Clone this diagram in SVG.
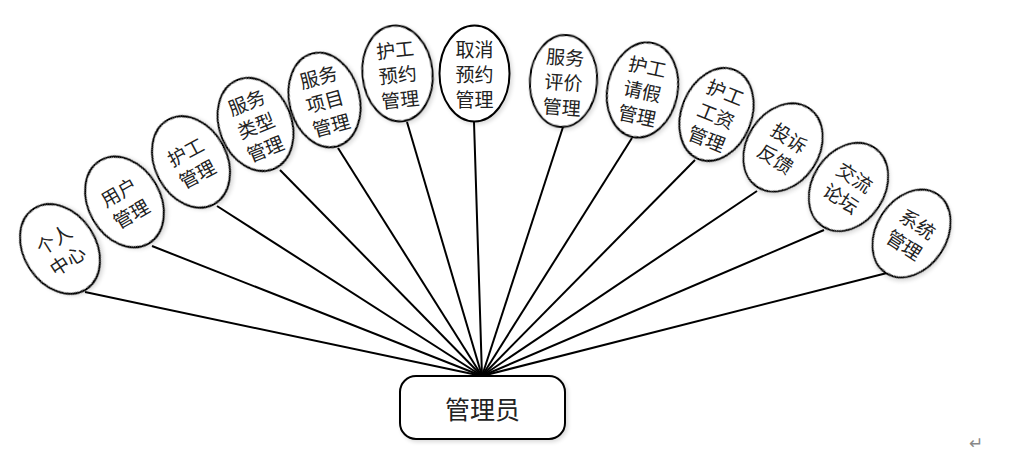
<svg xmlns="http://www.w3.org/2000/svg" width="1019" height="459" viewBox="0 0 1019 459">
<style>
.c{stroke:#000;stroke-width:2;fill:none}
.e{fill:#fff;stroke:#000;stroke-width:2;filter:url(#sh)}
.t{font-family:"Noto Sans CJK SC","Noto Sans",sans-serif;font-size:19px;fill:#222;text-anchor:middle;dominant-baseline:central}
</style>
<defs>
<filter id="sh" x="-20%" y="-20%" width="140%" height="140%">
<feGaussianBlur in="SourceAlpha" stdDeviation="2"/>
<feOffset dx="2" dy="2"/>
<feComponentTransfer><feFuncA type="linear" slope="0.15"/></feComponentTransfer>
<feMerge><feMergeNode/><feMergeNode in="SourceGraphic"/></feMerge>
</filter>
</defs>
<rect width="1019" height="459" fill="#fff"/>
<g id="connectors">
<line class="c" x1="482" y1="376" x2="85" y2="292"/>
<line class="c" x1="482" y1="376" x2="152" y2="246"/>
<line class="c" x1="482" y1="376" x2="217" y2="206"/>
<line class="c" x1="482" y1="376" x2="280" y2="170"/>
<line class="c" x1="482" y1="376" x2="338" y2="148"/>
<line class="c" x1="482" y1="376" x2="407" y2="122"/>
<line class="c" x1="482" y1="376" x2="474" y2="122"/>
<line class="c" x1="482" y1="376" x2="563" y2="127"/>
<line class="c" x1="482" y1="376" x2="632" y2="138"/>
<line class="c" x1="482" y1="376" x2="695" y2="160"/>
<line class="c" x1="482" y1="376" x2="757" y2="191"/>
<line class="c" x1="482" y1="376" x2="824" y2="230"/>
<line class="c" x1="482" y1="376" x2="887" y2="273"/>
</g>
<g id="n1" transform="translate(60,249) rotate(-33)">
<ellipse class="e" rx="36" ry="48"/>
<text class="t" y="-12.5">个人</text><text class="t" y="12.5">中心</text>
</g>
<g id="n2" transform="translate(124.5,202) rotate(-30)">
<ellipse class="e" rx="36" ry="48"/>
<text class="t" y="-12.5">用户</text><text class="t" y="12.5">管理</text>
</g>
<g id="n3" transform="translate(191,162) rotate(-28)">
<ellipse class="e" rx="36" ry="48"/>
<text class="t" y="-12.5">护工</text><text class="t" y="12.5">管理</text>
</g>
<g id="n4" transform="translate(255.5,124.5) rotate(-22)">
<ellipse class="e" rx="36" ry="48"/>
<text class="t" y="-25">服务</text><text class="t" y="0">类型</text><text class="t" y="25">管理</text>
</g>
<g id="n5" transform="translate(324.5,100) rotate(-15)">
<ellipse class="e" rx="35" ry="48"/>
<text class="t" y="-25">服务</text><text class="t" y="0">项目</text><text class="t" y="25">管理</text>
</g>
<g id="n6" transform="translate(397.5,73.5) rotate(-6)">
<ellipse class="e" rx="35" ry="48"/>
<text class="t" y="-25">护工</text><text class="t" y="0">预约</text><text class="t" y="25">管理</text>
</g>
<g id="n7" transform="translate(474.5,73.5)">
<ellipse class="e" rx="35" ry="48"/>
<text class="t" y="-25">取消</text><text class="t" y="0">预约</text><text class="t" y="25">管理</text>
</g>
<g id="n8" transform="translate(563.5,81) rotate(4)">
<ellipse class="e" rx="33.5" ry="46"/>
<text class="t" y="-25">服务</text><text class="t" y="0">评价</text><text class="t" y="25">管理</text>
</g>
<g id="n9" transform="translate(642.5,90) rotate(12)">
<ellipse class="e" rx="35" ry="48"/>
<text class="t" y="-25">护工</text><text class="t" y="0">请假</text><text class="t" y="25">管理</text>
</g>
<g id="n10" transform="translate(716.5,114.5) rotate(22)">
<ellipse class="e" rx="35" ry="48"/>
<text class="t" y="-25">护工</text><text class="t" y="0">工资</text><text class="t" y="25">管理</text>
</g>
<g id="n11" transform="translate(783,147.5) rotate(33)">
<ellipse class="e" rx="36" ry="47"/>
<text class="t" y="-12.5">投诉</text><text class="t" y="12.5">反馈</text>
</g>
<g id="n12" transform="translate(848.5,187) rotate(33)">
<ellipse class="e" rx="36" ry="47"/>
<text class="t" y="-12.5">交流</text><text class="t" y="12.5">论坛</text>
</g>
<g id="n13" transform="translate(911.5,233.5) rotate(33)">
<ellipse class="e" rx="35" ry="47"/>
<text class="t" y="-12.5">系统</text><text class="t" y="12.5">管理</text>
</g>
<g id="admin">
<rect class="e" x="400" y="376" width="165" height="63" rx="16" ry="16"/>
<text class="t" x="482.5" y="407.5" style="font-size:25px">管理员</text>
</g>
<text x="976" y="443" style="font-family:'DejaVu Sans',sans-serif;font-size:17px;fill:#888;text-anchor:middle;dominant-baseline:central">↵</text>
</svg>
